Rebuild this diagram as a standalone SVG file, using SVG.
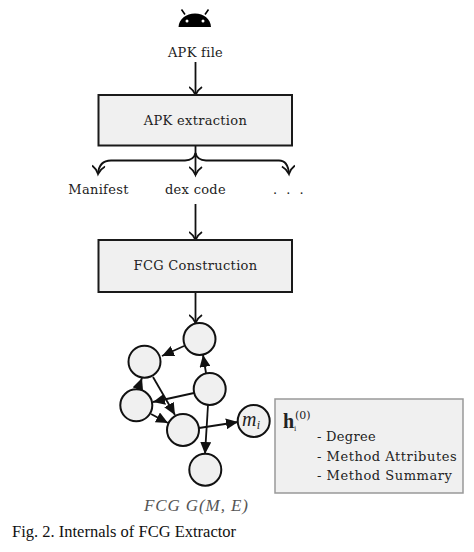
<svg xmlns="http://www.w3.org/2000/svg" width="474" height="552" viewBox="0 0 474 552">
<style>
text{font-family:"DejaVu Serif","Liberation Serif",serif;fill:#222;font-size:13px;letter-spacing:.3px}
.c{text-anchor:middle}
.box{fill:#f0f0f0;stroke:#1a1a1a;stroke-width:2}
.n{fill:#f0f0f0;stroke:#111;stroke-width:2}
.l{fill:none;stroke:#111;stroke-width:1.8}
.o{fill:none;stroke:#111;stroke-width:1.8;marker-end:url(#open)}
.s{fill:none;stroke:#111;stroke-width:1.8;marker-end:url(#solid)}
.m{font-family:"Liberation Serif",serif;font-style:italic}
</style>
<defs>
<marker id="open" markerUnits="userSpaceOnUse" markerWidth="16" markerHeight="14" refX="11" refY="7" orient="auto"><path d="M3 0.5Q6 5 11 7Q6 9 3 13.500" fill="none" stroke="#111" stroke-width="1.800"/></marker>
<marker id="solid" markerUnits="userSpaceOnUse" markerWidth="13" markerHeight="11" refX="12" refY="5.500" orient="auto"><path d="M0 0L12 5.500L0 11Z" fill="#111"/></marker>
</defs>
<g id="android"><path d="M178.500 27C179 19 186 13.500 195 13.500C204 13.500 210.500 19 211 27Z" fill="#000"/><path d="M185 14.500L181.500 9.500M205 14.500L208.500 9.500" stroke="#000" stroke-width="1.600"/><circle cx="187" cy="21" r="1.500" fill="#fff"/><circle cx="203" cy="21" r="1.500" fill="#fff"/></g>
<g id="connectors">
<path class="o" d="M195.500 62V95"/>
<path class="l" d="M195.500 145V157"/>
<path class="o" d="M195.500 157V175"/>
<path class="o" d="M195.500 153Q194 160 185 160.500H111Q99 160.500 98 174"/>
<path class="o" d="M195.500 153Q197 160 206 160.500H279Q288 160.500 289 174"/>
<path class="o" d="M195.500 204V240"/>
<path class="o" d="M195.500 292V323"/>
<path class="s" d="M184 346L162 356"/>
<path class="s" d="M206 373L203 355"/>
<path class="s" d="M194 393L153 402"/>
<path class="s" d="M138 389L142 378"/>
<path class="s" d="M151 414L168 423"/>
<path class="s" d="M153 377L175 415"/>
<path class="s" d="M199 428L238 422"/>
<path class="s" d="M208 405L205 454"/>
</g>
<g id="apk-label"><text class="c" x="195.500" y="57">APK file</text></g>
<g id="apk-extraction"><rect class="box" x="98.500" y="95" width="193.500" height="50.500"/><text class="c" x="195.500" y="125">APK extraction</text></g>
<g id="manifest"><text class="c" x="98.500" y="194">Manifest</text></g>
<g id="dex-code"><text class="c" x="195.500" y="194">dex code</text></g>
<g id="ellipsis"><text x="273" y="194" style="letter-spacing:2.500px">. . .</text></g>
<g id="fcg-construction"><rect class="box" x="98.500" y="240" width="193.500" height="52"/><text class="c" x="195.500" y="270">FCG Construction</text></g>
<g id="n1"><circle class="n" cx="199.500" cy="339" r="16"/></g>
<g id="n2"><circle class="n" cx="144.500" cy="361.700" r="16"/></g>
<g id="n3"><circle class="n" cx="209.700" cy="389" r="16"/></g>
<g id="n4"><circle class="n" cx="136.300" cy="405.300" r="16"/></g>
<g id="n5"><circle class="n" cx="183" cy="430" r="16"/></g>
<g id="n6"><circle class="n" cx="205.300" cy="469.700" r="16"/></g>
<g id="mi"><circle class="n" cx="253.700" cy="421" r="16"/><text class="m" x="242" y="426" style="font-size:20px">m<tspan dy="3" style="font-size:12px">i</tspan></text></g>
<g id="fcg-label"><text class="m" x="144" y="511" style="font-size:17px;fill:#555;letter-spacing:.9px">FCG G(M, E)</text></g>
<g id="features"><rect x="275" y="399" width="188" height="94" fill="#f0f0f0" stroke="#999" stroke-width="1.500"/>
<text x="283" y="428" style="font-family:'Liberation Serif',serif;font-weight:bold;font-size:20px">h</text>
<text x="294" y="431" style="font-size:7px">i</text>
<text x="295" y="419" style="font-size:11px;letter-spacing:0">(0)</text>
<text x="317" y="441">- Degree</text>
<text x="317" y="461" style="letter-spacing:.55px">- Method Attributes</text>
<text x="317" y="480" style="letter-spacing:.55px">- Method Summary</text></g>
<g id="caption"><text x="12" y="537" style="font-family:'Liberation Serif',serif;font-size:16.500px;fill:#111;letter-spacing:0">Fig. 2. Internals of FCG Extractor</text></g>
</svg>
